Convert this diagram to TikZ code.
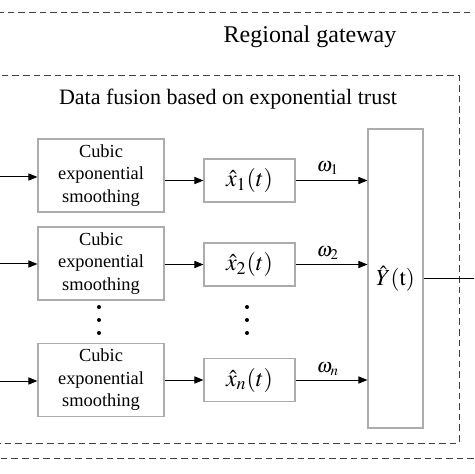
\documentclass[tikz,border=0pt]{standalone}
\usepackage{mathptmx}
\usepackage{fontspec}
\setmainfont{Liberation Serif}
\usetikzlibrary{arrows.meta, positioning, calc}

\begin{document}
\begin{tikzpicture}[x=0.5pt, y=-0.5pt,
  smooth box/.style={rectangle, draw=gray!65, line width=0.6pt,
                     minimum width=63pt, minimum height=36.5pt, inner sep=0pt,
                     align=center, font=\fontsize{9.2}{11.25}\selectfont},
  est box/.style={rectangle, draw=gray!65, line width=0.6pt,
                  minimum width=45.5pt, minimum height=21.5pt, inner sep=0pt,
                  font=\fontsize{12}{14}\selectfont},
  fuse box/.style={rectangle, draw=gray!65, line width=0.6pt,
                   minimum width=27.5pt, minimum height=149.5pt, inner sep=0pt,
                   font=\fontsize{11.5}{13}\selectfont},
  frame/.style={draw=black!75, line width=0.5pt, dash pattern=on 3.3pt off 2pt},
  arr/.style={-{Triangle[length=4.5pt, width=3.6pt]}, line width=0.5pt}
]
  \useasboundingbox (0,0) rectangle (474,474);
  \clip (0,0) rectangle (474,474);

  \draw[frame] (-10,13) rectangle (490,458);
  \draw[frame] (-10,76) rectangle (459,443);

  \node[font=\fontsize{12}{14}\selectfont] (gw) at (310,37) {Regional gateway};
  \node[font=\fontsize{11}{13}\selectfont] (df) at (228,99) {Data fusion based on exponential trust};

  \node[smooth box] (cub1) at (101,175.5) {Cubic\\exponential\\smoothing};
  \node[smooth box] (cub2) at (101,263.5) {Cubic\\exponential\\smoothing};
  \node[smooth box] (cubn) at (101,380) {Cubic\\exponential\\smoothing};

  \node[est box] (est1) at (249.5,180.5) {$\hat{x}_1(t)$};
  \node[est box] (est2) at (249.5,264.5) {$\hat{x}_2(t)$};
  \node[est box] (estn) at (249.5,380) {$\hat{x}_n(t)$};

  \node[fuse box] (fuse) at (395.5,278.5) {$\hat{Y}(\mathrm{t})$};

  \coordinate (in1) at (0,177);
  \coordinate (in2) at (0,264);
  \coordinate (inn) at (0,381);
  \coordinate (out) at (480,278.5);

  \foreach \i in {1,2,n}{
    \draw[arr] (in\i) -- (in\i -| cub\i.west);
    \draw[arr] (cub\i.east |- est\i.west) -- (est\i.west);
    \draw[arr] (est\i.east) -- (est\i.east -| fuse.west);
  }
  \draw[line width=0.5pt] (fuse.east) -- (out);

  \node[font=\fontsize{10}{12}\selectfont] (w1) at (328,168) {$\omega_1$};
  \node[font=\fontsize{10}{12}\selectfont] (w2) at (328,253) {$\omega_2$};
  \node[font=\fontsize{10}{12}\selectfont] (wn) at (328,369) {$\omega_n$};

  \foreach \y in {307,320,333}{
    \fill (99,\y) circle[radius=1pt];
    \fill (247,\y) circle[radius=1pt];
  }
\end{tikzpicture}
\end{document}
